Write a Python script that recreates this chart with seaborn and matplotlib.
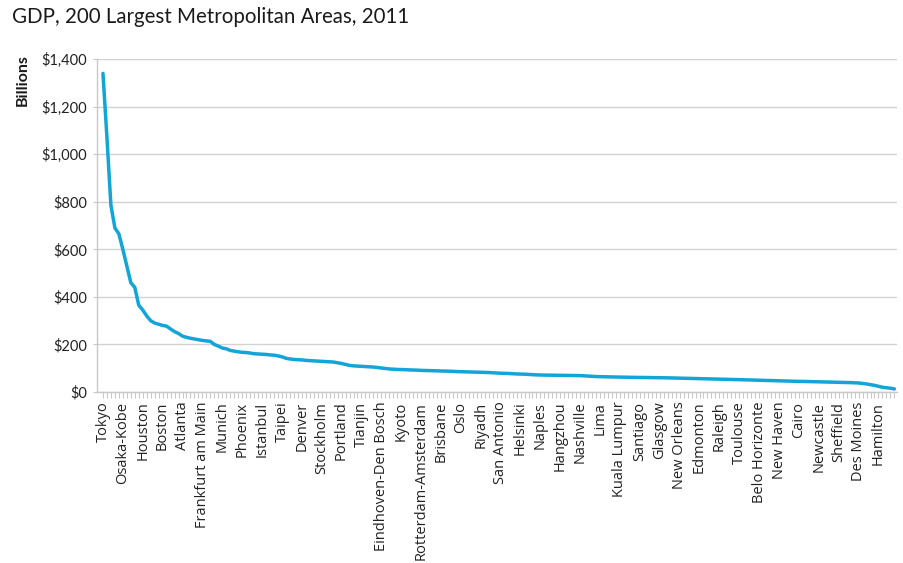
import numpy as np
import pandas as pd
import matplotlib
matplotlib.use('Agg')
import matplotlib.pyplot as plt
import seaborn as sns

# GDP (billions USD), ranked, 200 largest metro areas
gdp = [1340, 1070, 785, 690, 665, 600, 530, 460, 440, 365,
       345, 320, 300, 290, 285, 280, 277, 265, 254, 246,
       235, 230, 226, 223, 220, 217, 215, 213, 200, 193,
       185, 182, 175, 172, 169, 167, 166, 164, 161, 160,
       159, 158, 156, 155, 152, 148, 142, 139, 137, 136,
       135, 133, 132, 131, 130, 129, 128, 127, 126, 123,
       120, 116, 112, 110, 109, 108, 107, 106, 105, 103,
       101, 99, 97, 96, 95, 94.5, 94, 93, 92.5, 92,
       91, 90.5, 90, 89.5, 89, 88.5, 88, 87.5, 87, 86,
       85.5, 85, 84.5, 84, 83.5, 83, 82.5, 82, 81, 80,
       79, 78.5, 78, 77, 76, 75.5, 75, 74, 73, 72,
       71.5, 71.2, 71, 70.8, 70.6, 70.4, 70.2, 70, 69.8, 69.5,
       69, 68, 67, 66, 65, 64.5, 64, 63.7, 63.4, 63,
       62.7, 62.4, 62, 61.8, 61.5, 61.2, 61, 60.8, 60.6, 60.3,
       60.1, 60, 59.6, 59.2, 58.8, 58.4, 58, 57.5, 57, 56.6,
       56.2, 55.8, 55.4, 55, 54.6, 54.2, 53.8, 53.4, 53, 52.5,
       52, 51.5, 51, 50.5, 50, 49.5, 49, 48.5, 48, 47.5,
       47, 46.5, 46, 45.5, 45.2, 45, 44.6, 44.2, 43.8, 43.4,
       43, 42.6, 42.3, 42, 41.6, 41.3, 41, 40.3, 39.5, 38.8,
       38, 36, 34, 31, 28, 24, 20, 18, 16, 13]

# every 5th metro is labelled
cities = ['Tokyo', 'Osaka-Kobe', 'Houston', 'Boston', 'Atlanta',
          'Frankfurt am Main', 'Munich', 'Phoenix', 'Istanbul', 'Taipei',
          'Denver', 'Stockholm', 'Portland', 'Tianjin', 'Eindhoven-Den Bosch',
          'Kyoto', 'Rotterdam-Amsterdam', 'Brisbane', 'Oslo', 'Riyadh',
          'San Antonio', 'Helsinki', 'Naples', 'Hangzhou', 'Nashville',
          'Lima', 'Kuala Lumpur', 'Santiago', 'Glasgow', 'New Orleans',
          'Edmonton', 'Raleigh', 'Toulouse', 'Belo Horizonte', 'New Haven',
          'Cairo', 'Newcastle', 'Sheffield', 'Des Moines', 'Hamilton']

yticks = [0, 200, 400, 600, 800, 1000, 1200, 1400]

df = pd.DataFrame({'rank': np.arange(len(gdp)), 'gdp': gdp})

sns.set_style('white')
plt.rcParams['font.family'] = ['Lato', 'DejaVu Sans']

fig = plt.figure(figsize=(9.04, 5.63), dpi=100)
ax = fig.add_axes([0.1073, 0.3037, 0.8847, 0.5913])

sns.lineplot(data=df, x='rank', y='gdp', ax=ax, color='#12a5d8', linewidth=2.5)

ax.set_xlim(-1.5, 199.6)
ax.set_ylim(0, 1400)
ax.set_yticks(yticks)
ax.set_yticklabels(['${:,}'.format(v) for v in yticks], fontsize=10.5, color='#222222')
ax.yaxis.grid(True, color='#d2d2d2', linewidth=1)
ax.set_axisbelow(True)

ax.set_xticks(np.arange(0, len(gdp), 5))
ax.set_xticklabels(cities, rotation=90, fontsize=10.5, color='#222222',
                   family=['Open Sans', 'DejaVu Sans'])
ax.set_xticks(np.arange(len(gdp)), minor=True)
ax.tick_params(axis='x', which='both', direction='out', length=4, width=0.8,
               color='#c8c8c8', pad=3, bottom=True)
ax.tick_params(axis='y', direction='out', length=3, width=0.8, color='#c8c8c8', pad=4, left=True)

for s in ['top', 'right']:
    ax.spines[s].set_visible(False)
for s in ['left', 'bottom']:
    ax.spines[s].set_color('#c8c8c8')
    ax.spines[s].set_linewidth(1)

ax.set_xlabel('')
ax.set_ylabel('')

fig.text(12/904, 1 - 17/563, 'GDP, 200 Largest Metropolitan Areas, 2011',
         fontsize=14.8, color='#1a1a1a', va='center', ha='left')
fig.text(23/904, 1 - 54/563, 'Billions', rotation=90, fontsize=11.5,
         fontweight='bold', color='#1a1a1a', va='top', ha='center')

fig.savefig('out.png', dpi=100)
